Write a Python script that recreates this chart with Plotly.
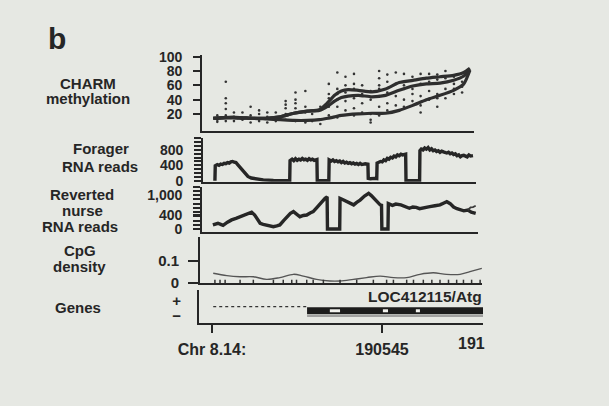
import plotly.graph_objects as go

# ---------------- data ----------------
charm_x = [0.33, 0.7, 1.1, 1.5, 1.9, 2.3, 2.7, 3.1, 3.45, 3.7, 3.9, 4.1, 4.3, 4.6, 5.0, 5.4, 5.8, 6.2, 6.6, 7.0, 7.4, 7.7, 7.88]
charm_a = [14, 15, 15, 14, 14, 16, 21, 24, 26, 36, 46, 52, 54, 53, 51, 55, 64, 67, 70, 72, 74, 78, 84]
charm_b = [14, 15, 15, 14, 14, 16, 21, 24, 25, 31, 38, 43, 45, 46, 44, 46, 53, 59, 62, 63, 67, 73, 82]
charm_c = [14, 15, 14, 14, 13, 12, 11, 11, 12, 14, 16, 18, 19, 20, 21, 21, 25, 32, 40, 46, 53, 62, 81]

probe_cols = [0.45, 0.70, 0.94, 1.19, 1.43, 1.68, 1.92, 2.17, 2.46, 2.75, 3.04, 3.24, 3.48, 3.73, 3.98,
              4.22, 4.47, 4.71, 4.96, 5.21, 5.45, 5.70, 5.94, 6.19, 6.43, 6.68, 6.92, 7.16, 7.41, 7.65]
probe_vals = [
    [12, 18, 9], [65, 42, 35, 27, 18, 10], [22, 16, 10], [22, 12], [30, 18, 8], [25, 20, 10],
    [22, 16, 8], [22, 10], [38, 33, 28, 20, 12], [50, 40, 35, 28, 10], [52, 30, 22, 8], [20, 10],
    [30, 12, 6], [62, 48, 42, 30, 18], [78, 55, 48, 40, 30, 15], [72, 60, 50, 38, 25],
    [76, 62, 55, 42, 28, 18], [60, 48, 35, 22], [52, 40, 20, 12, 8], [80, 70, 60, 55, 45, 30, 18],
    [75, 65, 50, 35, 25], [78, 62, 45, 32], [76, 60, 55, 40, 30], [72, 55, 48, 38],
    [76, 62, 45, 32, 22], [76, 65, 52, 40], [75, 68, 48, 42, 30], [80, 70, 55, 42],
    [72, 62, 55, 48], [65, 58, 50]]

forager_x = [0.38, 0.39, 0.45, 0.5, 0.55, 0.6, 0.65, 0.7, 0.75, 0.8, 0.85, 0.9, 0.95, 1.0, 1.05, 1.1, 1.15,
             1.25, 1.35, 1.45, 1.6, 1.8, 2.1, 2.4, 2.58,
             2.59, 2.65, 2.7, 2.75, 2.8, 2.85, 2.9, 2.95, 3.0, 3.05, 3.1, 3.15, 3.2, 3.25, 3.3, 3.38, 3.39, 3.73,
             3.74, 3.8, 3.85, 3.9, 3.95, 4.0, 4.05, 4.1, 4.15, 4.2, 4.25, 4.3, 4.35, 4.4, 4.45, 4.5, 4.55,
             4.6, 4.65, 4.7, 4.8, 4.88, 4.89, 4.95, 5.08, 5.14,
             5.15, 5.2, 5.25, 5.3, 5.35, 5.4, 5.45, 5.5, 5.55, 5.6, 5.65, 5.7, 5.75, 5.8, 5.85, 5.9, 5.99, 6.0, 6.40,
             6.41, 6.45, 6.5, 6.55, 6.6, 6.65, 6.7, 6.75, 6.8, 6.85, 6.9, 6.95, 7.0, 7.05, 7.1, 7.15, 7.2,
             7.25, 7.3, 7.35, 7.4, 7.45, 7.5, 7.55, 7.6, 7.65, 7.7, 7.75, 7.8, 7.85, 7.9, 7.97]
forager_y = [0, 390, 420, 400, 430, 420, 450, 440, 470, 455, 490, 500, 480, 470, 420, 370, 310,
             200, 110, 70, 40, 20, 8, 2, 0,
             520, 560, 520, 570, 530, 560, 540, 580, 545, 560, 530, 570, 540, 560, 530, 550, 0, 0,
             540, 510, 540, 500, 520, 490, 510, 470, 500, 460, 480, 450, 470, 440, 460, 430, 450,
             420, 450, 420, 440, 430, 60, 50, 60, 55,
             460, 480, 500, 490, 540, 520, 580, 560, 610, 590, 640, 620, 670, 650, 690, 670, 690, 0, 0,
             780, 820, 800, 850, 820, 860, 800, 830, 780, 800, 760, 780, 740, 770, 750, 730, 720,
             740, 700, 720, 680, 700, 650, 670, 620, 650, 660, 640, 620, 670, 640, 650]

nurse_x = [0.32, 0.4, 0.47, 0.55, 0.62, 0.75, 0.87, 1.0, 1.12, 1.25, 1.35, 1.46, 1.55, 1.61, 1.71, 1.80, 1.90,
           2.0, 2.10, 2.2, 2.29, 2.4, 2.49, 2.6, 2.69, 2.8, 2.88, 2.98, 3.08, 3.18,
           3.27, 3.37, 3.47, 3.55, 3.62, 3.68, 3.69, 4.05,
           4.06, 4.15, 4.26, 4.35, 4.46, 4.55, 4.65, 4.78, 4.9, 4.98, 5.05, 5.15, 5.24, 5.28, 5.29, 5.47,
           5.48, 5.6, 5.7, 5.85, 5.95, 6.1, 6.2, 6.3, 6.4, 6.5, 6.6, 6.7, 6.85, 7.0, 7.1, 7.2, 7.3, 7.4,
           7.5, 7.6, 7.7, 7.82, 7.92, 8.05]
nurse_y = [119, 150, 169, 138, 106, 200, 269, 313, 363, 425, 463, 494, 413, 313, 169, 138, 113,
           88, 69, 94, 119, 250, 363, 463, 513, 413, 363, 400, 413, 475,
           513, 625, 750, 850, 906, 950, 0, 0,
           906, 863, 806, 750, 713, 788, 856, 975, 1056, 988, 906, 800, 713, 700, 0, 0,
           750, 700, 738, 713, 663, 613, 650, 638, 600, 613, 638, 663, 688, 713, 763, 806, 750, 650,
           600, 563, 538, 562, 500, 464]
nurse_fork_x = [7.82, 7.9, 7.97, 8.05]
nurse_fork_y = [562, 640, 650, 689]

cpg_x = [0.33, 0.73, 1.12, 1.51, 1.90, 2.29, 2.69, 2.98, 3.37, 3.76, 4.06, 4.45, 4.84, 5.24, 5.63,
         6.02, 6.41, 6.80, 7.19, 7.59, 7.88, 8.23]
cpg_y = [0.043, 0.032, 0.027, 0.027, 0.015, 0.023, 0.038, 0.030, 0.015, 0.008, 0.008, 0.015, 0.023,
         0.030, 0.023, 0.023, 0.038, 0.045, 0.038, 0.038, 0.050, 0.065]
cpg_sites = [0.38, 0.53, 0.68, 1.12, 1.51, 2.10, 2.39, 2.64, 2.78, 3.08, 3.27, 3.57, 4.06, 4.55, 5.04,
             5.43, 5.63, 6.02, 6.22, 6.51, 6.76, 7.0, 7.25, 7.49, 7.69, 7.93, 8.18]

gene_name = "LOC412115/Atg"
gene_start, gene_end = 3.09, 8.4
gene_gaps = [(3.76, 4.06), (5.32, 5.47), (6.29, 6.41)]
plus_strand_span = (0.33, 3.09)

tick_pos = [0.294, 5.294]
tick_text = ["Chr 8.14:", "190545"]
tick_extra = (7.94, "191")

forager_ticks = list(range(0, 1101, 100))
forager_labels = {0: "0", 400: "400", 800: "800"}
nurse_ticks = list(range(0, 1251, 125)) + [400]
nurse_labels = {0: "0", 400: "400", 1000: "1,000"}

# ---------------- styling ----------------
BG = "#e6e8e3"
INK = "#262626"
FONT = "Liberation Sans, Arial, sans-serif"
W, H = 609, 406

def xd(l, r):
    return [l / W, r / W]

def yd(top, bot):
    return [1 - bot / H, 1 - top / H]

def xr(l, r):
    return [(l - 202) / 34, (r - 202) / 34]

def b(t):
    return "<b>%s</b>" % t

fig = go.Figure()

px_, py_ = [], []
for xc, vals in zip(probe_cols, probe_vals):
    for v in vals:
        px_.append(xc)
        py_.append(v)
fig.add_trace(go.Scatter(x=px_, y=py_, mode="markers", marker=dict(size=2.6, color="#333333"),
                         xaxis="x", yaxis="y", hoverinfo="skip"))
for ys in (charm_c, charm_b, charm_a):
    fig.add_trace(go.Scatter(x=charm_x, y=ys, mode="lines", line=dict(color="#2e2e2e", width=3.2, shape="spline", smoothing=0.6),
                             xaxis="x", yaxis="y"))

fig.add_trace(go.Scatter(x=forager_x, y=forager_y, mode="lines", line=dict(color="#262626", width=3.4),
                         xaxis="x2", yaxis="y2"))
fig.add_trace(go.Scatter(x=nurse_x, y=nurse_y, mode="lines", line=dict(color="#262626", width=3.4),
                         xaxis="x3", yaxis="y3"))
fig.add_trace(go.Scatter(x=nurse_fork_x, y=nurse_fork_y, mode="lines", line=dict(color="#3a3a3a", width=1.8),
                         xaxis="x3", yaxis="y3"))
fig.add_trace(go.Scatter(x=cpg_x, y=cpg_y, mode="lines", line=dict(color="#555555", width=1.4, shape="spline"),
                         xaxis="x4", yaxis="y4"))
fig.add_trace(go.Scatter(x=cpg_sites, y=[0.004] * len(cpg_sites), mode="markers",
                         marker=dict(symbol="line-ns", size=3, line=dict(width=1.5, color="#333333")),
                         xaxis="x4", yaxis="y4"))
fig.add_trace(go.Scatter(x=list(plus_strand_span), y=[0.24, 0.24], mode="lines",
                         line=dict(color="#333333", width=1.2, dash="dot"), xaxis="x5", yaxis="y5"))
fig.add_trace(go.Scatter(x=[gene_start, gene_end], y=[-1.0, -1.0], mode="lines",
                         line=dict(color="#8a8a8a", width=1.5), xaxis="x5", yaxis="y5"))
fig.add_trace(go.Scatter(x=[gene_start, gene_end], y=[-0.3, -0.3], mode="lines",
                         line=dict(color="#1c1c1c", width=7), xaxis="x5", yaxis="y5"))
gx, gy = [], []
for a, bb in gene_gaps:
    gx += [a, bb, None]
    gy += [-0.3, -0.3, None]
fig.add_trace(go.Scatter(x=gx, y=gy, mode="lines", line=dict(color="#f2f2ee", width=3),
                         xaxis="x5", yaxis="y5"))

axis_common = dict(showgrid=False, zeroline=False, showline=True, linecolor=INK, linewidth=1.8,
                   automargin=False, tickcolor=INK, tickwidth=1.6, ticklabelstandoff=8,
                   tickfont=dict(family=FONT, size=14, color=INK))

def xax(dom, rng, anchor, **kw):
    d = dict(axis_common, domain=dom, range=rng, anchor=anchor, showticklabels=False, ticks="")
    d.update(kw)
    return d

fig.update_layout(
    template="none",
    width=W, height=H, autosize=False, showlegend=False,
    margin=dict(l=0, r=0, t=0, b=0, pad=0, autoexpand=False),
    paper_bgcolor=BG, plot_bgcolor="rgba(0,0,0,0)",
    font=dict(family=FONT, color=INK),
    xaxis=xax(xd(202, 474), xr(202, 474), "y"),
    xaxis2=xax(xd(203, 476), xr(203, 476), "y2"),
    xaxis3=xax(xd(202, 478), xr(202, 478), "y3"),
    xaxis4=xax(xd(200, 482), xr(200, 482), "y4"),
    xaxis5=xax(xd(199, 483), xr(199, 483), "y5", ticks="outside", ticklen=8,
               tickvals=tick_pos, ticktext=[b(t) for t in tick_text], showticklabels=True, ticklabelstandoff=3,
               tickfont=dict(family=FONT, size=16, color=INK)),
    yaxis=dict(axis_common, domain=yd(55, 131), range=[-3.8, 102.4], anchor="x",
               ticks="outside", ticklen=7, tickvals=[20, 40, 60, 80, 100],
               ticktext=[b(t) for t in ["20", "40", "60", "80", "100"]], tickfont=dict(family=FONT, size=14, color=INK)),
    yaxis2=dict(axis_common, domain=yd(138.3, 181.7), range=[-26, 1102], anchor="x2",
                ticks="outside", ticklen=7, tickvals=forager_ticks,
                ticktext=[b(forager_labels[v]) if v in forager_labels else "" for v in forager_ticks]),
    yaxis3=dict(axis_common, domain=yd(186.7, 231.7), range=[-80, 1251], anchor="x3",
                ticks="outside", ticklen=7, tickvals=nurse_ticks,
                ticktext=[b(nurse_labels[v]) if v in nurse_labels else "" for v in nurse_ticks]),
    yaxis4=dict(axis_common, domain=yd(236.7, 283), range=[-0.0014, 0.209], anchor="x4",
                ticks="outside", ticklen=10, tickvals=[0, 0.1], ticktext=[b("0"), b("0.1")], ticklabelstandoff=6,
                tickfont=dict(family=FONT, size=15, color=INK)),
    yaxis5=dict(axis_common, domain=yd(290, 323), range=[-1.93, 2.47], anchor="x5",
                ticks="", tickvals=[1, -1], ticktext=[b("+"), b("−")], ticklabelstandoff=13,
                tickfont=dict(family=FONT, size=15, color=INK)),
)

ann = []
def label(text, cx, cy, size=15, xanchor="center"):
    ann.append(dict(text=b(text), x=cx / W, y=1 - cy / H,
                    xref="paper", yref="paper", xanchor=xanchor, yanchor="middle", showarrow=False,
                    font=dict(family=FONT, size=size, color=INK)))

label("b", 57, 38, size=30)
label("CHARM", 88, 83)
label("methylation", 88, 99)
label("Forager", 101, 148.5)
label("RNA reads", 100, 166)
label("Reverted", 82, 194.5)
label("nurse", 82, 210)
label("RNA reads", 80, 226)
label("CpG", 80, 250.5)
label("density", 79, 266)
label("Genes", 78, 307)
label(gene_name, 484, 296, size=15.5, xanchor="right")
ann.append(dict(text=b(tick_extra[1]), x=tick_extra[0], y=1 - 343 / H, xref="x5", yref="paper",
                xanchor="center", yanchor="middle", showarrow=False,
                font=dict(family=FONT, size=16, color=INK)))
fig.update_layout(annotations=ann)

page_js = ("document.body.style.margin='0px';"
           "document.body.style.overflow='hidden';"
           "document.body.style.backgroundColor='%s';" % BG)
fig.write_html("out.html", post_script=page_js, config={"displayModeBar": False})
